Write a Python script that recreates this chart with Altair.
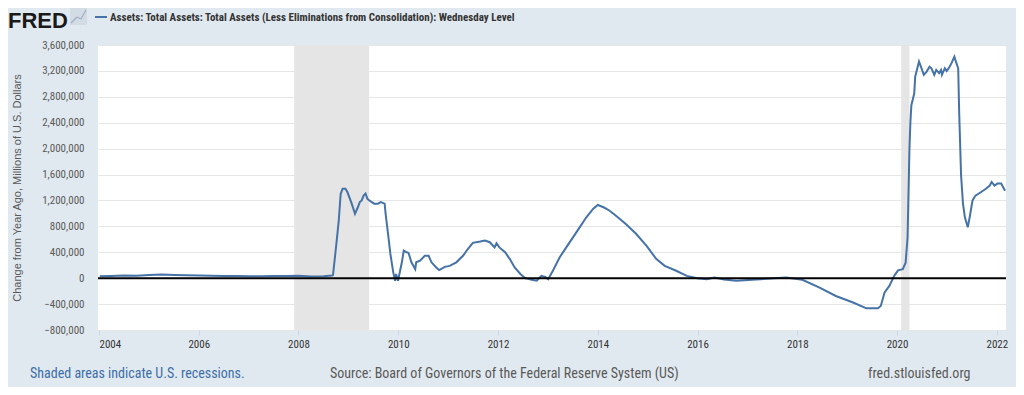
import altair as alt
import pandas as pd

# ---- data (change from year ago, millions of USD) ----
dates = [
    "2004-01-07", "2004-04-01", "2004-07-01", "2004-10-01", "2005-01-05", "2005-04-06",
    "2005-07-06", "2005-10-05", "2006-01-04", "2006-04-05", "2006-07-05", "2006-10-04",
    "2007-01-03", "2007-04-04", "2007-07-04", "2007-10-03", "2008-01-02", "2008-04-02",
    "2008-07-02", "2008-09-03", "2008-09-10", "2008-10-08", "2008-10-22", "2008-11-05",
    "2008-11-19", "2008-12-10", "2008-12-24", "2009-01-21", "2009-02-18", "2009-03-11",
    "2009-03-25", "2009-04-08", "2009-04-22", "2009-05-06", "2009-05-20", "2009-06-03",
    "2009-07-08", "2009-08-05", "2009-08-26", "2009-09-23", "2009-09-30", "2009-10-21",
    "2009-11-04", "2009-11-25", "2009-12-09", "2009-12-16", "2009-12-30", "2010-01-27",
    "2010-02-10", "2010-03-03", "2010-03-17", "2010-04-07", "2010-05-05", "2010-05-12",
    "2010-06-09", "2010-07-14", "2010-08-11", "2010-09-01", "2010-10-06", "2010-10-27",
    "2010-12-08", "2011-01-12", "2011-03-02", "2011-04-20", "2011-05-25", "2011-07-01",
    "2011-08-24", "2011-09-28", "2011-11-02", "2011-12-07", "2011-12-21", "2012-01-11",
    "2012-02-22", "2012-03-28", "2012-05-02", "2012-06-13", "2012-07-18", "2012-09-05",
    "2012-10-10", "2012-11-14", "2012-12-12", "2013-01-02", "2013-02-06", "2013-03-27",
    "2013-05-15", "2013-07-03", "2013-08-21", "2013-10-09", "2013-11-27", "2014-01-01",
    "2014-02-12", "2014-03-26", "2014-05-14", "2014-07-23", "2014-10-08", "2014-12-24",
    "2015-03-04", "2015-05-06", "2015-07-29", "2015-10-14", "2015-12-30", "2016-03-09",
    "2016-05-04", "2016-07-13", "2016-10-12", "2017-04-05", "2017-10-11", "2018-02-07",
    "2018-06-13", "2018-10-10", "2019-02-13", "2019-05-22", "2019-08-14", "2019-09-04",
    "2019-10-02", "2019-11-06", "2019-12-11", "2020-01-08", "2020-02-12", "2020-03-04",
    "2020-03-18", "2020-03-25", "2020-04-01", "2020-04-08", "2020-04-15", "2020-05-06",
    "2020-05-13", "2020-06-10", "2020-06-24", "2020-07-15", "2020-08-05", "2020-08-26",
    "2020-09-09", "2020-09-30", "2020-10-14", "2020-11-04", "2020-11-18", "2020-11-25",
    "2020-12-16", "2020-12-30", "2021-01-20", "2021-02-03", "2021-02-24", "2021-03-03",
    "2021-03-24", "2021-03-31", "2021-04-14", "2021-04-28", "2021-05-12", "2021-06-02",
    "2021-06-16", "2021-07-07", "2021-07-28", "2021-09-08", "2021-10-13", "2021-11-10",
    "2021-11-24", "2021-12-15", "2022-01-05", "2022-02-02", "2022-03-02",
]
values = [
    30000, 35000, 40000, 38000, 50000, 55000,
    48000, 45000, 42000, 38000, 35000, 32000,
    28000, 30000, 32000, 35000, 38000, 25000,
    30000, 40000, 50000, 600000, 890000, 1300000,
    1380000, 1380000, 1330000, 1175000, 995000, 1095000,
    1175000, 1200000, 1275000, 1305000, 1225000, 1200000,
    1150000, 1150000, 1175000, 1150000, 995000, 630000,
    375000, 90000, -40000, 65000, -40000, 245000,
    425000, 400000, 390000, 245000, 140000, 245000,
    270000, 345000, 345000, 245000, 165000, 125000,
    175000, 190000, 245000, 345000, 450000, 545000,
    565000, 580000, 555000, 475000, 540000, 475000,
    400000, 295000, 165000, 65000, 0, -25000,
    -40000, 35000, 20000, -15000, 115000, 320000,
    475000, 630000, 785000, 940000, 1070000, 1130000,
    1095000, 1045000, 965000, 840000, 685000, 500000,
    300000, 190000, 115000, 35000, 0, -15000,
    10000, -20000, -40000, -15000, 10000, -25000,
    -145000, -275000, -375000, -465000, -465000, -430000,
    -220000, -120000, 35000, 120000, 140000, 240000,
    620000, 1300000, 2000000, 2410000, 2670000, 2850000,
    3110000, 3345000, 3265000, 3140000, 3190000, 3265000,
    3240000, 3140000, 3215000, 3165000, 3215000, 3140000,
    3240000, 3200000, 3265000, 3320000, 3420000, 3370000,
    3240000, 2570000, 1590000, 1150000, 940000, 785000,
    940000, 1200000, 1275000, 1330000, 1380000, 1430000,
    1485000, 1430000, 1460000, 1460000, 1350000,
]

rec_start = ["2007-12-01", "2020-02-01"]
rec_end = ["2009-06-01", "2020-04-01"]

y_ticks = [-800000, -400000, 0, 400000, 800000, 1200000, 1600000, 2000000,
           2400000, 2800000, 3200000, 3600000]
x_tick_years = [2004, 2006, 2008, 2010, 2012, 2014, 2016, 2018, 2020, 2022]
zero_level = [0]

series_name = ("Assets: Total Assets: Total Assets (Less Eliminations from "
               "Consolidation): Wednesday Level")
y_title = "Change from Year Ago, Millions of U.S. Dollars"

df = pd.DataFrame({"date": dates, "value": values})
rec = pd.DataFrame({"start": rec_start, "end": rec_end})
zdf = pd.DataFrame({"z": zero_level})
one = pd.DataFrame({"k": [0]})

W, H = 908, 285
LINE = "#4572a7"
NARROW = "Liberation Sans Narrow, Arial Narrow, Roboto Condensed, sans-serif"
SANS = "Liberation Sans, Arial, sans-serif"

xscale = alt.Scale(domain=[alt.DateTime(year=2003, month=12, date=25),
                           alt.DateTime(year=2022, month=3, date=9)])
yscale = alt.Scale(domain=[-800000, 3600000], nice=False, zero=False)

xaxis = alt.Axis(
    values=[alt.DateTime(year=y, month=1, date=1) for y in x_tick_years],
    format="%Y", title=None, grid=False, domain=False,
    tickColor="#ccd6eb", tickSize=5, labelPadding=3,
    labelFont=NARROW, labelFontSize=11, labelColor="#333333",
)
yaxis = alt.Axis(
    values=y_ticks, format=",.0f", title=y_title, grid=True, labelOverlap=False,
    gridColor="#e6e6e6", gridWidth=1, domain=False, ticks=False,
    labelFont=NARROW, labelFontSize=11, labelColor="#595959", labelPadding=14,
    titleFont=SANS, titleFontSize=11, titleFontWeight="normal",
    titleColor="#595959", titlePadding=19,
)

bands = alt.Chart(rec).mark_rect(color="#e5e5e5").encode(
    x=alt.X("start:T", scale=xscale, axis=xaxis),
    x2="end:T",
)

line = alt.Chart(df).mark_line(color=LINE, strokeWidth=2).encode(
    x=alt.X("date:T", scale=xscale, axis=xaxis),
    y=alt.Y("value:Q", scale=yscale, axis=yaxis),
)

zero = alt.Chart(zdf).mark_rule(color="black", strokeWidth=2).encode(
    y=alt.Y("z:Q", scale=yscale, axis=yaxis),
)

def label(text, x, y, size, color, font=SANS, weight="normal", align="left"):
    return alt.Chart(one).mark_text(
        text=text, align=align, baseline="alphabetic", fontSize=size,
        font=font, fontWeight=weight, color=color,
    ).encode(x=alt.value(x), y=alt.value(y))

def seg(x1, y1, x2, y2, color, w):
    return alt.Chart(one).mark_rule(color=color, strokeWidth=w).encode(
        x=alt.value(x1), x2=alt.value(x2), y=alt.value(y1), y2=alt.value(y2))

# FRED logo, icon and legend
logo = label("FRED", -90, -17, 22, "#1a1a1a", weight="bold")
icon_bg = alt.Chart(one).mark_rect(color="#d3dbe4").encode(
    x=alt.value(-28), x2=alt.value(-11), y=alt.value(-37), y2=alt.value(-20))
icon_l1 = seg(-27, -22, -21, -28, "#9fb0c4", 1.2)
icon_l2 = seg(-21, -28, -17, -26, "#9fb0c4", 1.2)
icon_l3 = seg(-17, -26, -12, -35, "#9fb0c4", 1.2)
leg_line = seg(-3, -28, 9, -28, LINE, 2)
leg_text = label(series_name, 12, -24, 11, "#333333", font=NARROW, weight="bold")

foot1 = label("Shaded areas indicate U.S. recessions.", -68, 333, 14, "#3d6ea8", font=NARROW)
foot2 = label("Source: Board of Governors of the Federal Reserve System (US)", 232, 333, 14,
              "#595959", font=NARROW)
foot3 = label("fred.stlouisfed.org", 770, 333, 14, "#595959", font=NARROW)

chart = alt.layer(
    bands, line, zero, logo, icon_bg, icon_l1, icon_l2, icon_l3, leg_line, leg_text,
    foot1, foot2, foot3,
).properties(
    width=W, height=H,
    background="#e1e9f0",
    padding={"left": 90, "top": 37, "right": 10, "bottom": 57},
    autosize=alt.AutoSizeParams(type="none"),
).configure_view(fill="white", stroke=None)

chart.save("out.html", embed_options={"renderer": "svg", "actions": False})
